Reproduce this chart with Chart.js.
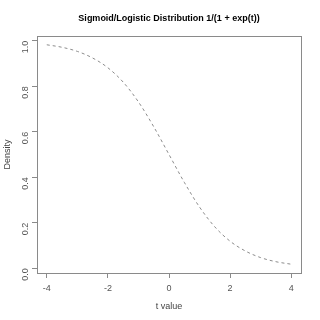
<!DOCTYPE html>
<html>
<head>
<meta charset="utf-8">
<script src="https://cdn.jsdelivr.net/npm/chart.js@4"></script>
<style>
html,body{margin:0;padding:0;background:#fff;}
#wrap{width:320px;height:320px;position:relative;}
</style>
</head>
<body>
<div id="wrap"><canvas id="c" width="320" height="320"></canvas></div>
<script>
const title = "Sigmoid/Logistic Distribution 1/(1 + exp(t))";
const xLabel = "t value";
const yLabel = "Density";
const tValues = [-4, -3.5, -3, -2.5, -2, -1.5, -1, -0.5, 0, 0.5, 1, 1.5, 2, 2.5, 3, 3.5, 4];
const densityValues = [0.982, 0.971, 0.953, 0.924, 0.881, 0.818, 0.731, 0.622, 0.5, 0.378, 0.269, 0.182, 0.119, 0.076, 0.047, 0.029, 0.018];
const xTicks = [-4, -2, 0, 2, 4];
const yTicks = [0, 0.2, 0.4, 0.6, 0.8, 1.0];

const points = tValues.map((t, i) => ({x: t, y: densityValues[i]}));

const boxPlugin = {
  id: 'boxAndTitle',
  afterDraw(chart) {
    const ctx = chart.ctx, a = chart.chartArea;
    ctx.save();
    ctx.strokeStyle = '#8a8a8a';
    ctx.lineWidth = 1;
    ctx.strokeRect(Math.round(a.left) + 0.5, Math.round(a.top) + 0.5, Math.round(a.right - a.left), Math.round(a.bottom - a.top));
    ctx.fillStyle = '#000';
    ctx.font = 'bold 9px "Liberation Sans", Arial, sans-serif';
    ctx.textAlign = 'center';
    ctx.textBaseline = 'middle';
    ctx.fillText(title, (a.left + a.right) / 2, 19);
    ctx.restore();
  }
};

new Chart(document.getElementById('c'), {
  type: 'line',
  data: {
    datasets: [{
      data: points,
      borderColor: '#8c8c8c',
      borderWidth: 1,
      borderDash: [3, 3],
      pointRadius: 0,
      fill: false,
      cubicInterpolationMode: 'monotone'
    }]
  },
  options: {
    responsive: false,
    animation: false,
    devicePixelRatio: 1,
    layout: {padding: {left: 0, right: 19, top: 36, bottom: 0}},
    plugins: {legend: {display: false}, tooltip: {enabled: false}},
    scales: {
      x: {
        type: 'linear',
        min: -4.32, max: 4.32,
        afterBuildTicks(s) { s.ticks = xTicks.map(v => ({value: v})); },
        afterFit(s) { s.height = 47; },
        grid: {drawOnChartArea: false, tickLength: 5, color: '#8a8a8a'},
        border: {display: true, color: '#8a8a8a'},
        ticks: {color: '#555', font: {size: 9, family: '"Liberation Sans", Arial, sans-serif'}, padding: 5, maxRotation: 0},
        title: {display: true, text: xLabel, color: '#444', font: {size: 9, family: '"Liberation Sans", Arial, sans-serif'}, padding: {top: 2, bottom: 8}}
      },
      y: {
        type: 'linear',
        min: -0.0206, max: 1.0206,
        afterBuildTicks(s) { s.ticks = yTicks.map(v => ({value: v})); },
        afterFit(s) { s.width = 37; },
        grid: {drawOnChartArea: false, tickLength: 5, color: '#8a8a8a'},
        border: {display: true, color: '#8a8a8a'},
        ticks: {color: '#555', minRotation: 90, maxRotation: 90, font: {size: 9, family: '"Liberation Sans", Arial, sans-serif'}, padding: 6,
          callback: v => v.toFixed(1)},
        title: {display: true, text: yLabel, color: '#444', font: {size: 9, family: '"Liberation Sans", Arial, sans-serif'}, padding: {top: 2, bottom: 0}}
      }
    }
  },
  plugins: [boxPlugin]
});
</script>
</body>
</html>
